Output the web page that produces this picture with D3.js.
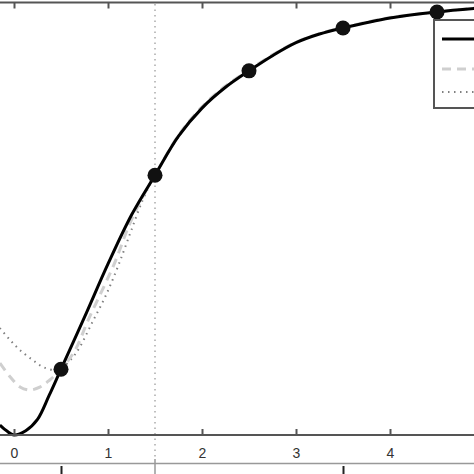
<!DOCTYPE html>
<html><head><meta charset="utf-8">
<script src="https://cdn.jsdelivr.net/npm/d3@7"></script>
<style>html,body{margin:0;padding:0;background:#fff;overflow:hidden}</style>
</head><body><svg id="c" width="474" height="474"></svg>
<script>
// ---- data ----
const xTicks = [0, 1, 2, 3, 4];
const lowerTicks = [0.5, 3.5];
const splitX = 1.5;
const markerX = [0.5, 1.5, 2.5, 3.5, 4.5];
const markerY = [0.152, 0.600, 0.841, 0.940, 0.977];

const solidX = [-0.15, -0.075, 0, 0.125, 0.25, 0.375, 0.5, 0.75, 1.0, 1.25, 1.5, 1.75, 2.0, 2.25, 2.5, 2.75, 3.0, 3.25, 3.5, 4.0, 4.5, 4.9];
const solidY = [0.023, 0.009, 0, 0.01, 0.036, 0.092, 0.152, 0.272, 0.395, 0.508, 0.600, 0.690, 0.755, 0.803, 0.841, 0.876, 0.906, 0.926, 0.940, 0.963, 0.977, 0.985];

const dashedX = [-0.15, -0.04, 0.064, 0.17, 0.28, 0.38, 0.5, 0.65, 0.79, 0.97, 1.07, 1.23, 1.37, 1.5, 1.75, 2.0, 2.25, 2.5, 2.75, 3.0, 3.25, 3.5, 4.0, 4.5, 4.9];
const dashedY = [0.166, 0.134, 0.111, 0.104, 0.111, 0.127, 0.152, 0.196, 0.266, 0.349, 0.397, 0.487, 0.550, 0.600, 0.692, 0.758, 0.806, 0.843, 0.878, 0.907, 0.927, 0.941, 0.964, 0.977, 0.986];

const dottedX = [-0.15, -0.04, 0.064, 0.2, 0.31, 0.44, 0.52, 0.62, 0.70, 0.83, 0.97, 1.1, 1.23, 1.37, 1.5, 1.75, 2.0, 2.25, 2.5, 2.75, 3.0, 3.25, 3.5, 4.0, 4.5, 4.9];
const dottedY = [0.247, 0.219, 0.196, 0.173, 0.157, 0.150, 0.157, 0.178, 0.203, 0.259, 0.319, 0.386, 0.462, 0.543, 0.600, 0.689, 0.755, 0.804, 0.842, 0.877, 0.906, 0.926, 0.940, 0.963, 0.977, 0.985];

// ---- scales ----
const svg = d3.select('#c');
const x = d3.scaleLinear().domain([0, 4]).range([14, 390]);
const y = d3.scaleLinear().domain([0, 1]).range([435, 2]);

const line = d3.line().x(d => x(d[0])).y(d => y(d[1])).curve(d3.curveCatmullRom.alpha(0.5));
const zip = (a, b) => a.map((v, i) => [v, b[i]]);

// vertical dotted split line
svg.append('line').attr('x1', x(splitX)).attr('x2', x(splitX)).attr('y1', 4).attr('y2', 458)
  .attr('stroke', '#aaa').attr('stroke-width', 1.5).attr('stroke-dasharray', '1.5,4');

// curves
svg.append('path').attr('d', line(zip(dottedX, dottedY))).attr('fill', 'none')
  .attr('stroke', '#808080').attr('stroke-width', 2).attr('stroke-dasharray', '1.5,4.5');
svg.append('path').attr('d', line(zip(dashedX, dashedY))).attr('fill', 'none')
  .attr('stroke', '#cfcfcf').attr('stroke-width', 3).attr('stroke-dasharray', '9,6');
svg.append('path').attr('d', line(zip(solidX, solidY))).attr('fill', 'none')
  .attr('stroke', '#000').attr('stroke-width', 3);

// axes
const topAxis = svg.append('g').attr('transform', 'translate(0,2.5)')
  .call(d3.axisTop(x).tickValues(xTicks).tickSizeInner(-6).tickSizeOuter(0).tickFormat(''));
const botAxis = svg.append('g').attr('transform', 'translate(0,435)')
  .call(d3.axisBottom(x).tickValues(xTicks).tickSizeInner(-6).tickSizeOuter(0).tickPadding(13).tickFormat(d3.format('d')));
[topAxis, botAxis].forEach(g => {
  g.select('.domain').remove();
  g.selectAll('.tick line').attr('stroke', '#555').attr('stroke-width', 2);
});
svg.append('line').attr('x1', 0).attr('x2', 474).attr('y1', 2.5).attr('y2', 2.5).attr('stroke', '#555').attr('stroke-width', 2);
svg.append('line').attr('x1', 0).attr('x2', 474).attr('y1', 435).attr('y2', 435).attr('stroke', '#555').attr('stroke-width', 2);
botAxis.selectAll('.tick text').attr('font-family', 'Liberation Sans, Arial, sans-serif')
  .attr('font-size', 14).attr('fill', '#333');

// lower panel axis
svg.append('line').attr('x1', 0).attr('x2', 474).attr('y1', 463.5).attr('y2', 463.5).attr('stroke', '#999').attr('stroke-width', 1.5);
const lowAxis = svg.append('g').attr('transform', 'translate(0,466)')
  .call(d3.axisBottom(x).tickValues(lowerTicks).tickSizeInner(10).tickSizeOuter(0).tickFormat(''));
lowAxis.select('.domain').remove();
lowAxis.selectAll('.tick line').attr('stroke', '#222').attr('stroke-width', 2);
svg.append('line').attr('x1', x(splitX)).attr('x2', x(splitX)).attr('y1', 459).attr('y2', 474).attr('stroke', '#999').attr('stroke-width', 1.5);

// markers
svg.selectAll('circle.m').data(zip(markerX, markerY)).enter().append('circle')
  .attr('class', 'm').attr('cx', d => x(d[0])).attr('cy', d => y(d[1])).attr('r', 7.5).attr('fill', '#111');

// legend
const lg = svg.append('g');
lg.append('rect').attr('x', 434).attr('y', 20).attr('width', 60).attr('height', 88)
  .attr('fill', '#fff').attr('stroke', '#555').attr('stroke-width', 2);
lg.append('line').attr('x1', 442).attr('x2', 480).attr('y1', 39).attr('y2', 39).attr('stroke', '#000').attr('stroke-width', 3);
lg.append('line').attr('x1', 442).attr('x2', 480).attr('y1', 69).attr('y2', 69).attr('stroke', '#cfcfcf').attr('stroke-width', 3).attr('stroke-dasharray', '9,6');
lg.append('line').attr('x1', 442).attr('x2', 480).attr('y1', 92).attr('y2', 92).attr('stroke', '#808080').attr('stroke-width', 2).attr('stroke-dasharray', '1.5,4.5');
</script></body></html>
